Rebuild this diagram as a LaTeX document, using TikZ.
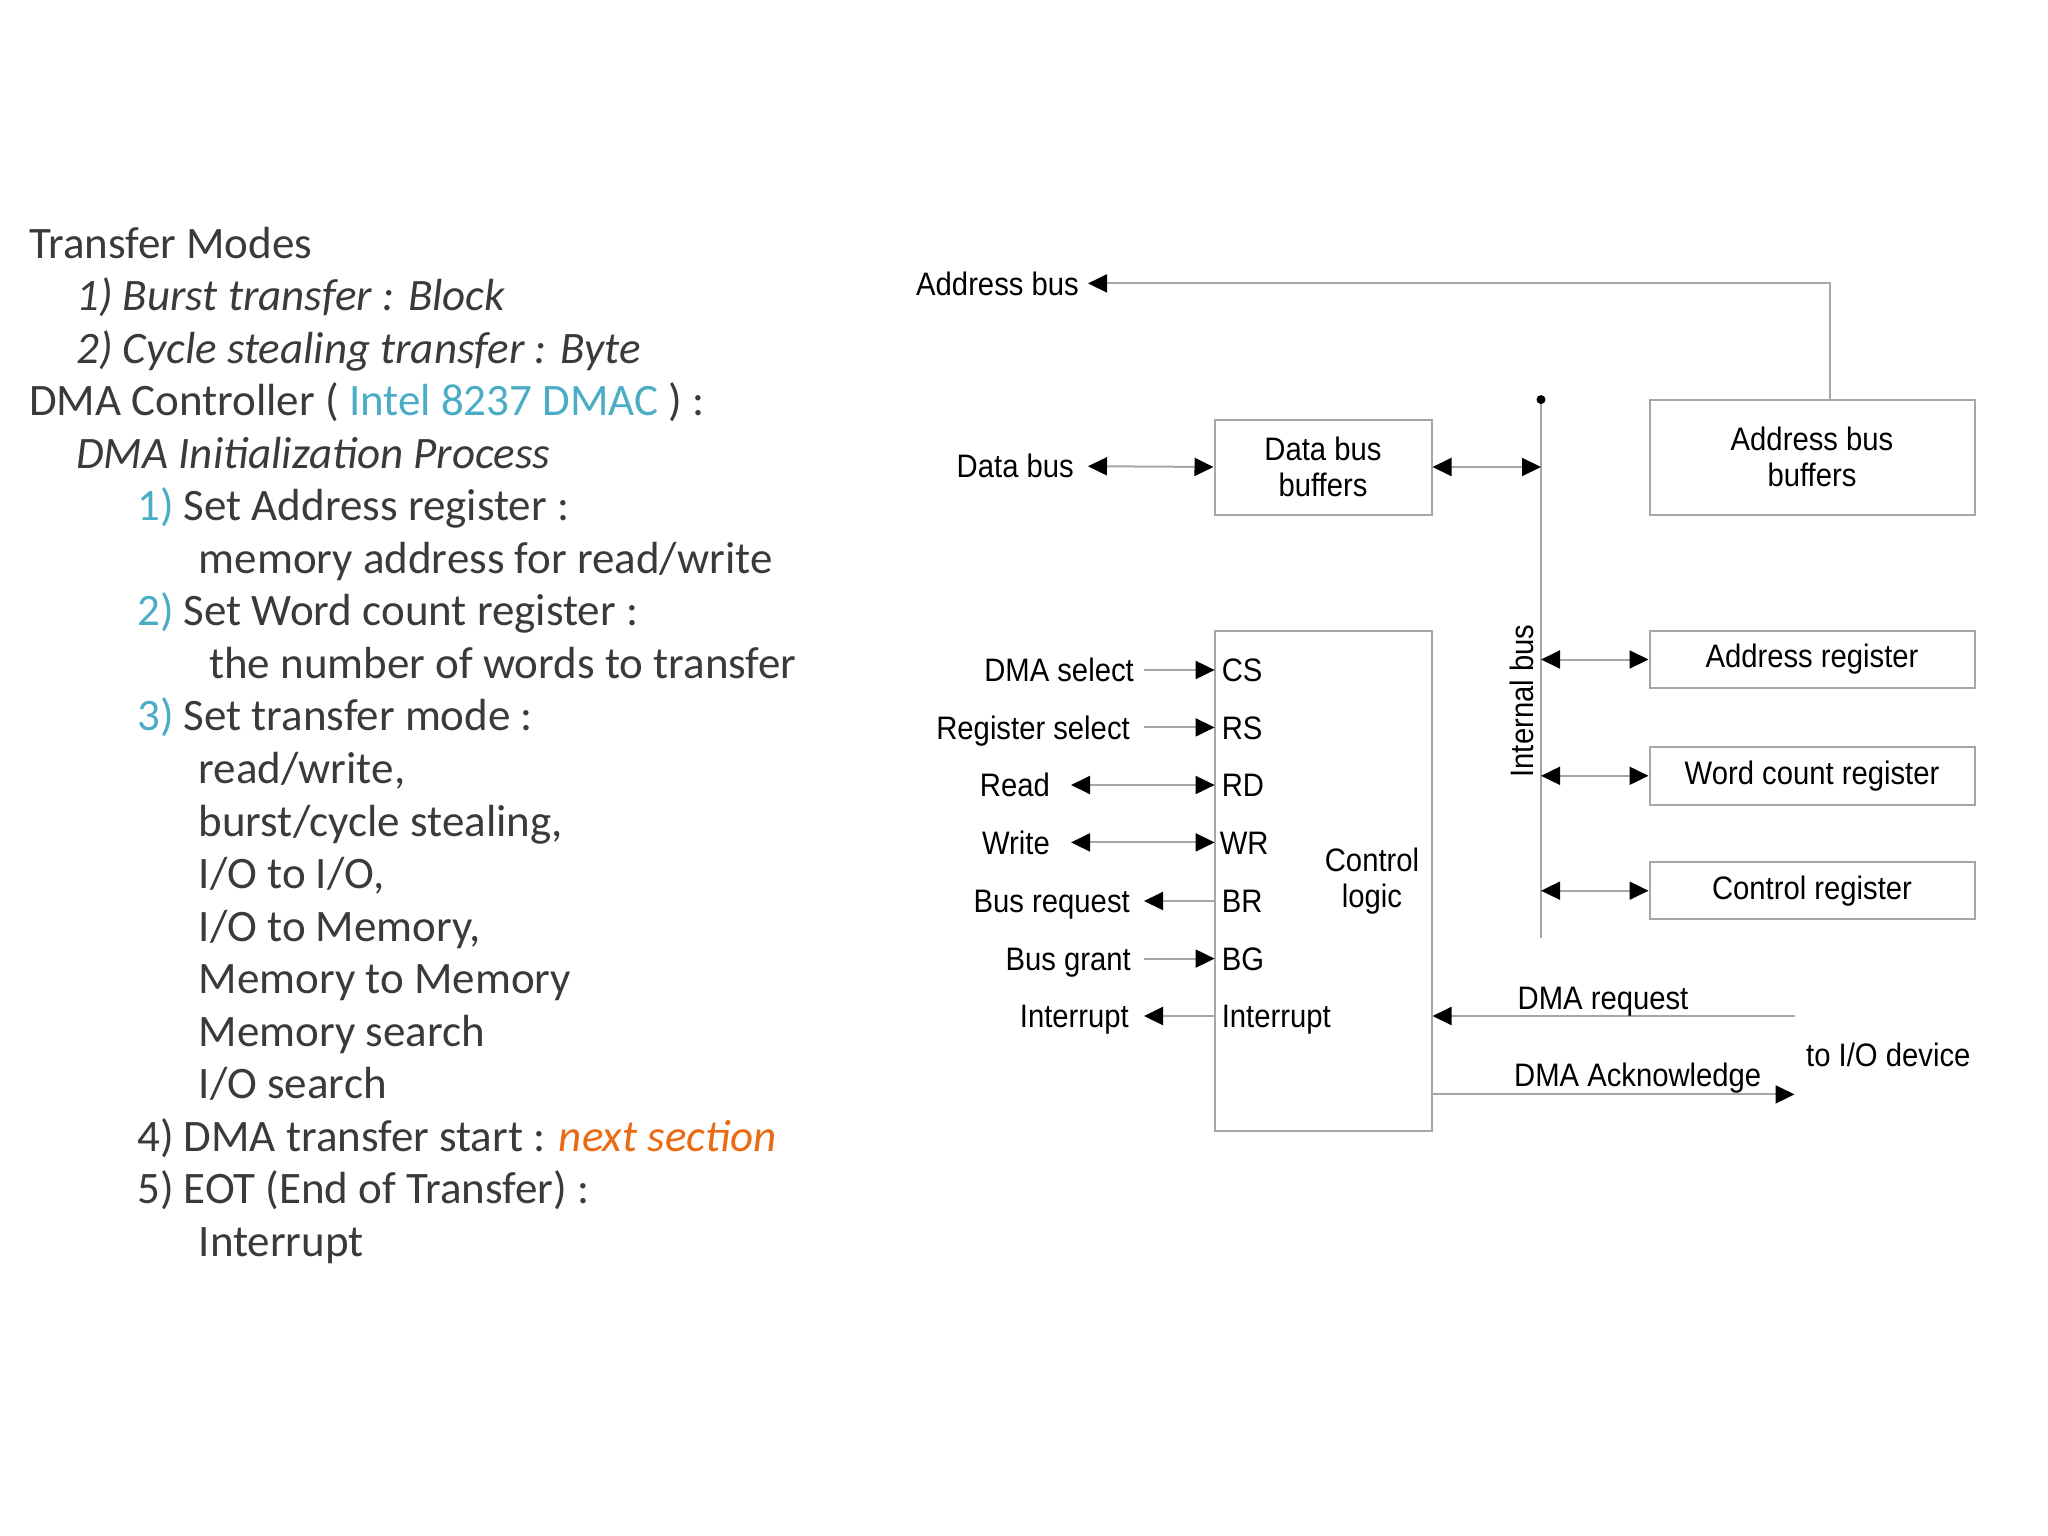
\documentclass[tikz,border=0pt]{standalone}
\usepackage{fontspec}
\setmainfont{Carlito}
\newfontfamily\diagfont[FakeStretch=0.9]{Liberation Sans}
\usetikzlibrary{arrows.meta}
\definecolor{accteal}{HTML}{4BACC6}
\definecolor{accorange}{HTML}{EB6A14}
\definecolor{linegray}{HTML}{A6A6A6}
\definecolor{txtgray}{HTML}{3A3A3A}
\tikzset{
    body/.style={font=\fontsize{45}{52}\selectfont, text=txtgray, inner sep=0pt},
    lbl/.style={font=\fontsize{32.5}{36}\selectfont\diagfont, inner sep=0pt, inner xsep=10pt, text height=23.3pt, text depth=0pt},
    pinlbl/.style={lbl, inner xsep=7pt, anchor=west},
    blk/.style={draw=linegray, line width=2pt, font=\fontsize{32.5}{36}\selectfont\diagfont, align=center, inner sep=0pt},
    bus/.style={draw=linegray, line width=2pt},
    >={Triangle[length=19pt,width=18pt,color=black]}
}

\begin{document}
\begin{tikzpicture}[x=1pt,y=-1pt]
    \useasboundingbox (0,0) rectangle (2048,1536);
    \foreach \ind/\txt [count=\i from 0] in {
        29/{Transfer Modes},
        76/{\itshape 1) Burst transfer : Block},
        76/{\itshape 2) Cycle stealing transfer : Byte},
        29/{DMA Controller ( {\color{accteal}Intel 8237 DMAC} ) :},
        76/{\itshape DMA Initialization Process},
        137/{{\color{accteal}1)} Set Address register :},
        198.5/{memory address for read/write},
        137/{{\color{accteal}2)} Set Word count register :},
        209/{the number of words to transfer},
        137/{{\color{accteal}3)} Set transfer mode :},
        198.5/{read/write,},
        198.5/{burst/cycle stealing,},
        198.5/{I/O to I/O,},
        198.5/{I/O to Memory,},
        198.5/{Memory to Memory},
        198.5/{Memory search},
        198.5/{I/O search},
        137/{4) DMA transfer start : {\color{accorange}\itshape next section}},
        137/{5) EOT (End of Transfer) :},
        198.5/{Interrupt}}
    \node[body, anchor=base west] (t\i) at (\ind, 258+52.55*\i) {\txt};

    \node[blk, minimum width=217pt, minimum height=95pt] (dbb) at (1323,467) {Data bus\\buffers};
    \node[blk, minimum width=325pt, minimum height=115pt] (abb) at (1812,457) {Address bus\\buffers};
    \node[blk, minimum width=325pt, minimum height=57.5pt] (areg) at (1812,659.5) {Address register};
    \node[blk, minimum width=325pt, minimum height=57.5pt] (wreg) at (1812,775.8) {Word count register};
    \node[blk, minimum width=325pt, minimum height=57.5pt] (creg) at (1812,890.7) {Control register};
    \node[blk, minimum width=217pt, minimum height=500pt] (ctl) at (1323,881) {};
    \node[lbl, text height=, text depth=, align=center, inner sep=0pt] (ctltxt) at (1372,881) {Control\\logic};

    \coordinate (ibtop) at (1541,399.6);
    \coordinate (ibbot) at (1541,937.7);
    \draw[bus] (ibtop) -- (ibbot);
    \fill (ibtop) circle (4.5pt);
    \node[lbl, rotate=90, inner xsep=0pt] (iblbl) at (1521.5,701) {Internal bus};

    \node[lbl, anchor=east, inner xsep=9pt] (abus) at (1088,283.4) {Address bus};
    \node[lbl, anchor=east, inner xsep=14pt] (dbus) at (1088,466.2) {Data bus};
    \coordinate (abturn) at (1830,283.4);
    \draw[bus, ->] (abb.north -| abturn) -- (abturn) -- (abus.east);
    \draw[bus, <->] (dbus.east) -- (dbb.west);
    \draw[bus, <->] (dbb.east) -- (dbb.east -| ibtop);
    \draw[bus, <->] (areg.west -| ibtop) -- (areg.west);
    \draw[bus, <->] (wreg.west -| ibtop) -- (wreg.west);
    \draw[bus, <->] (creg.west -| ibtop) -- (creg.west);

    \node[pinlbl] (pCS) at (1214.6,670) {CS};
    \node[pinlbl] (pRS) at (1214.6,727.4) {RS};
    \node[pinlbl] (pRD) at (1214.6,785) {RD};
    \node[pinlbl, inner xsep=5pt] (pWR) at (1214.6,842.4) {WR};
    \node[pinlbl] (pBR) at (1214.6,901) {BR};
    \node[pinlbl] (pBG) at (1214.6,958.6) {BG};
    \node[pinlbl] (pINT) at (1214.6,1016) {Interrupt};

    \node[lbl, anchor=east] (sCS) at (1144,670) {DMA select};
    \node[lbl, anchor=east, inner xsep=14pt] (sRS) at (1144,727.4) {Register select};
    \node[lbl, anchor=east, inner xsep=21pt] (sRD) at (1071,785) {Read};
    \node[lbl, anchor=east, inner xsep=21pt] (sWR) at (1071,842.4) {Write};
    \node[lbl, anchor=east, inner xsep=14pt] (sBR) at (1144,901) {Bus request};
    \node[lbl, anchor=east, inner xsep=13pt] (sBG) at (1144,958.6) {Bus grant};
    \node[lbl, anchor=east, inner xsep=15pt] (sINT) at (1144,1016) {Interrupt};
    \draw[bus, ->] (sCS.east) -- (pCS.west);
    \draw[bus, ->] (sRS.east) -- (pRS.west);
    \draw[bus, <->] (sRD.east) -- (pRD.west);
    \draw[bus, <->] (sWR.east) -- (pWR.west);
    \draw[bus, <-] (sBR.east) -- (pBR.west);
    \draw[bus, ->] (sBG.east) -- (pBG.west);
    \draw[bus, <-] (sINT.east) -- (pINT.west);

    \coordinate (ioreq) at (1794.5,1016);
    \coordinate (ioack) at (1794.5,1094.4);
    \draw[bus, <-] (ctl.east |- ioreq) -- (ioreq);
    \draw[bus, ->] (ctl.east |- ioack) -- (ioack);
    \node[lbl, inner xsep=0pt] (reqlbl) at (1603,997.8) {DMA request};
    \node[lbl, inner xsep=0pt] (acklbl) at (1637.7,1074.8) {DMA Acknowledge};
    \node[lbl, anchor=west, inner xsep=0pt] (iolbl) at (1806,1055) {to I/O device};
\end{tikzpicture}
\end{document}
